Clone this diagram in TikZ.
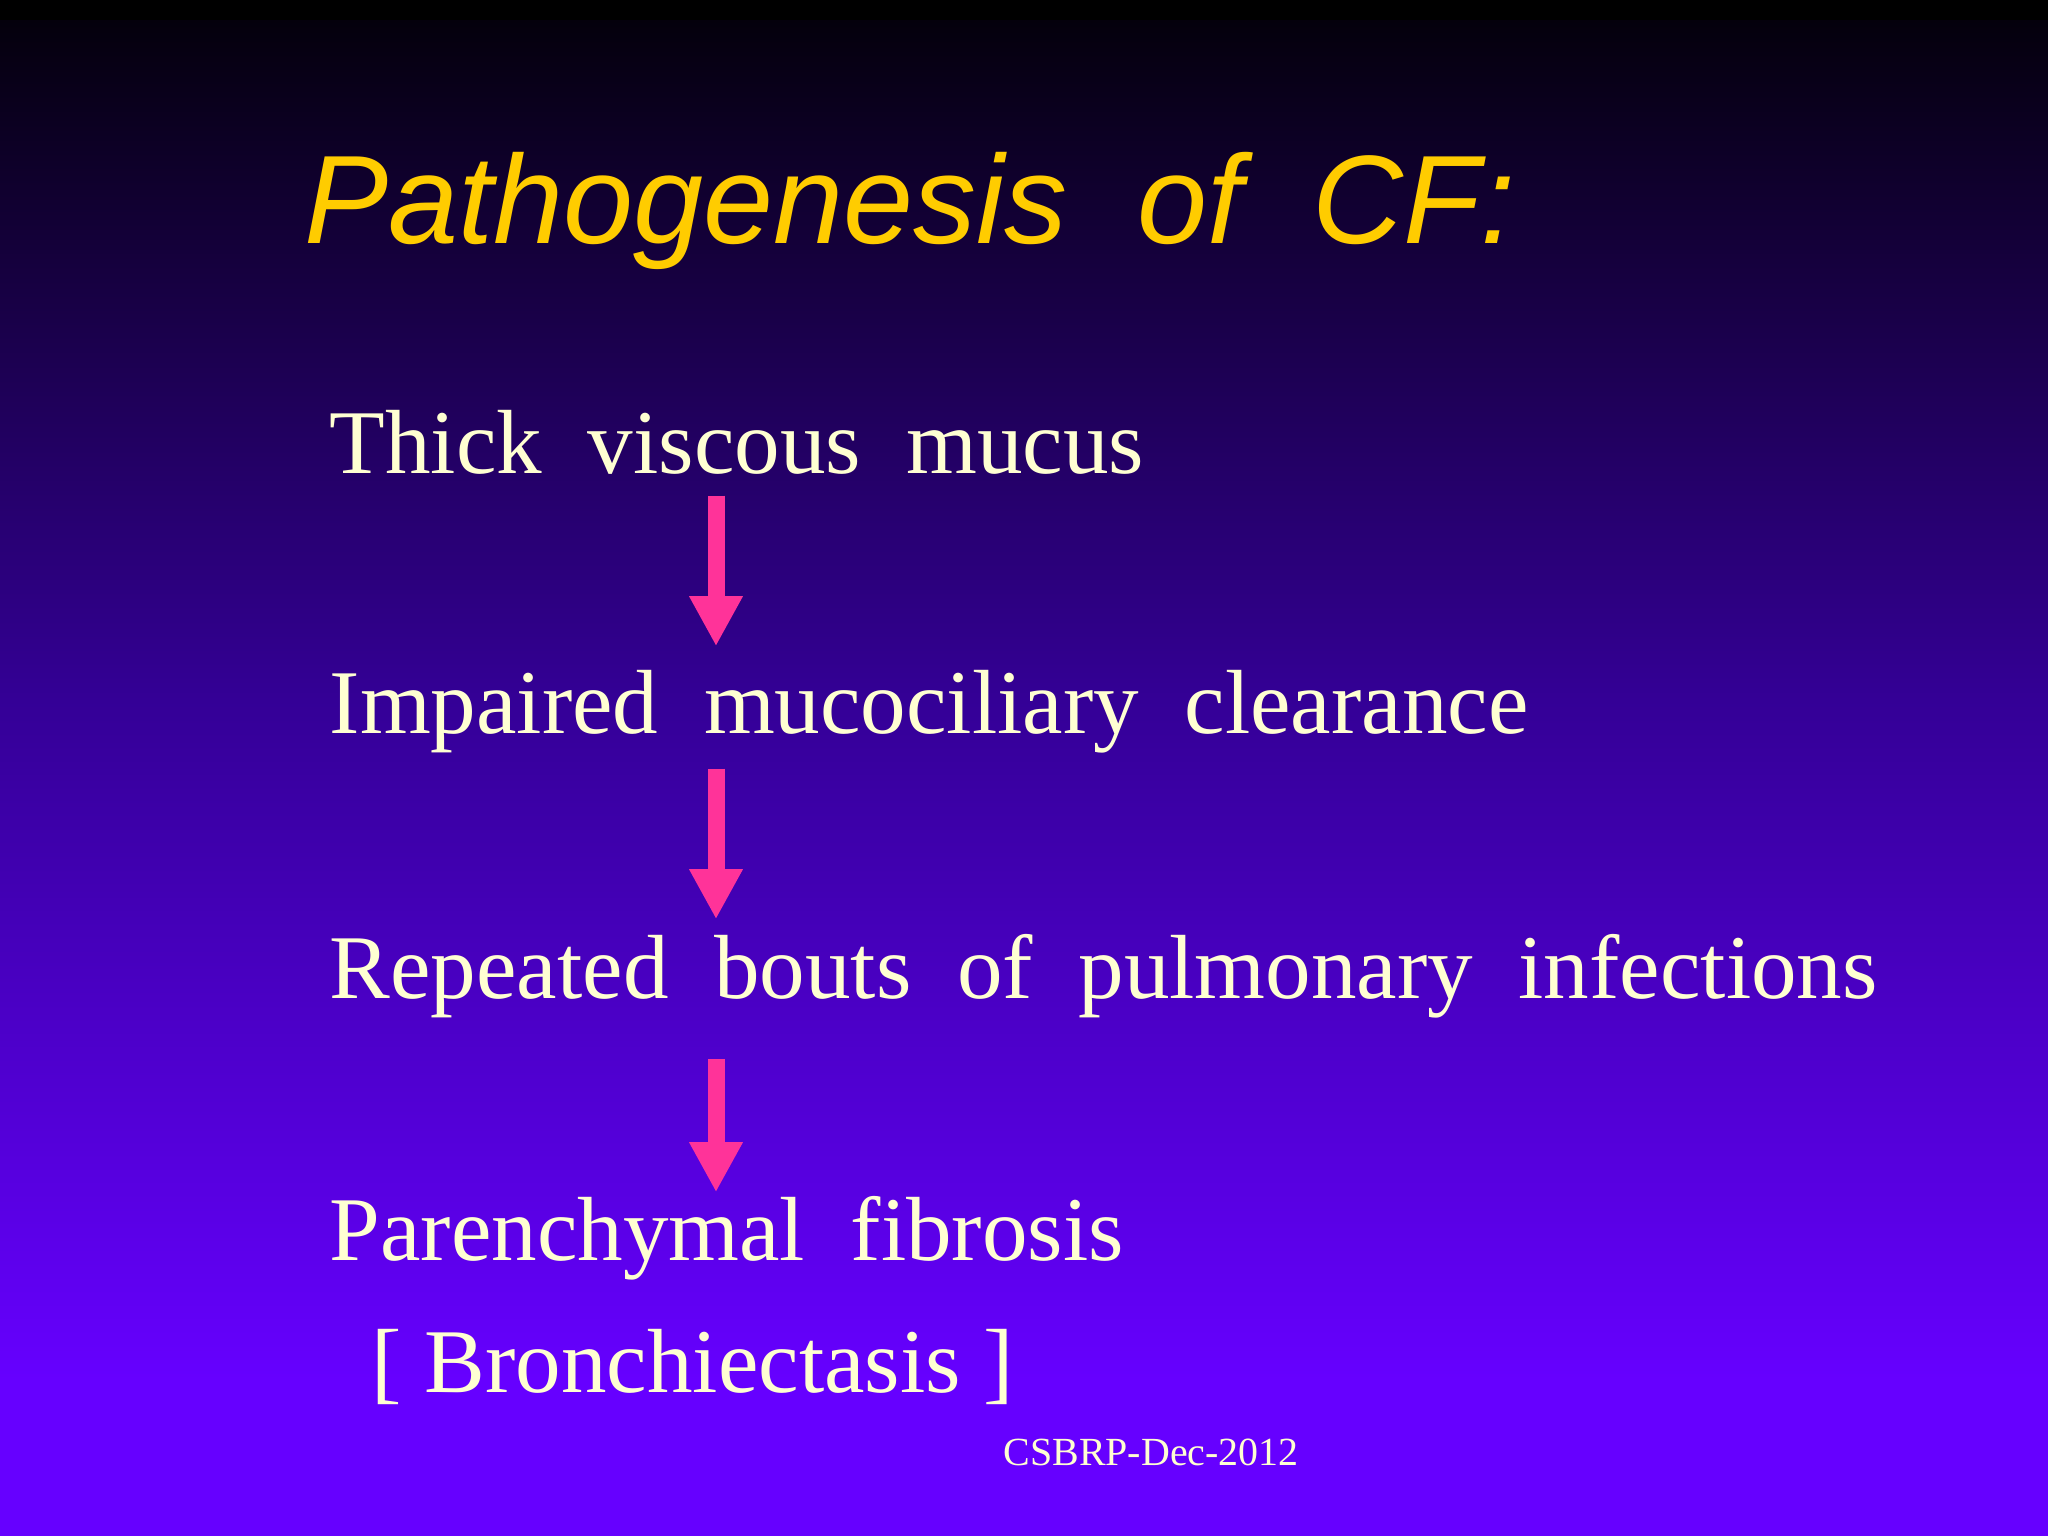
\documentclass[tikz,border=0pt]{standalone}
\usepackage{fontspec}
\setmainfont{Liberation Serif}
\newfontfamily\titlefont{Liberation Sans}
\usetikzlibrary{arrows.meta}

\definecolor{bgtop}{RGB}{4,0,12}
\definecolor{bgmid}{RGB}{52,0,150}
\definecolor{bgbot}{RGB}{102,0,255}
\definecolor{titleyellow}{RGB}{255,204,0}
\definecolor{cream}{RGB}{255,255,210}
\definecolor{arrowpink}{RGB}{255,51,153}

\begin{document}
\begin{tikzpicture}[x=0.01cm,y=-0.01cm,
  line/.style={anchor=base west,inner sep=0pt,text=cream,
    font=\fontsize{25.9}{30}\selectfont,text height=0.7cm,text depth=0.25cm},
  pinkarrow/.style={draw=arrowpink,line width=0.17cm,
    -{Triangle[width=5mm,length=5mm]}}]

  % background
  \useasboundingbox (0,0) rectangle (2048,1536);
  \fill[black] (0,0) rectangle (2048,20);
  \shade[top color=bgtop,bottom color=bgbot,middle color=bgmid]
    (0,20) rectangle (2048,1380);
  \fill[bgbot] (0,1380) rectangle (2048,1536);

  \node[anchor=base west,inner sep=0pt,text=titleyellow,
    font=\titlefont\itshape\fontsize{35.8}{40}\selectfont]
    (title) at (304,243) {Pathogenesis~~of~~CF:};

  \node[line] (thick)       at (329,473)  {Thick~~viscous~~mucus};
  \node[line] (impaired)    at (329,733)  {Impaired~~mucociliary~~clearance};
  \node[line] (repeated)    at (329,998)  {Repeated~~bouts~~of~~pulmonary~~infections};
  \node[line] (parenchymal) at (329,1260) {Parenchymal~~fibrosis};
  \node[line] (bronch)      at (371,1392) {[ Bronchiectasis ]};

  \node[anchor=base west,inner sep=0pt,text=cream,
    font=\fontsize{11.35}{13}\selectfont] (footer) at (1003,1465) {CSBRP-Dec-2012};

  \coordinate (arrowx) at (716,0);

  \draw[pinkarrow,shorten <=-0.03cm] (thick.south -| arrowx) -- ([yshift=0.16cm]impaired.north -| arrowx);
  \draw[pinkarrow,shorten <=0.1cm] (impaired.south -| arrowx) -- ([yshift=0.08cm]repeated.north -| arrowx);
  \draw[pinkarrow,shorten <=0.35cm] (repeated.south -| arrowx) -- ([yshift=-0.03cm]parenchymal.north -| arrowx);

\end{tikzpicture}
\end{document}
